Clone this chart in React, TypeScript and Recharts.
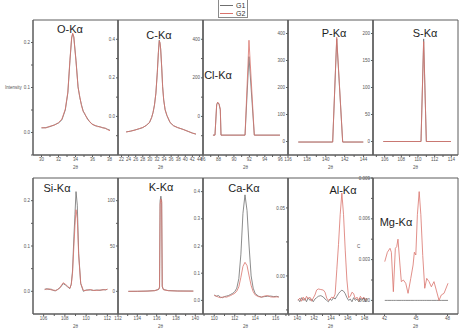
import { useMemo } from "react";
import { Line, LineChart, ReferenceArea, XAxis, YAxis } from "recharts";

const SERIES_NAMES = ["G1", "G2"];
const G1_COLOR = "#6f6f6f";
const G2_COLOR = "#d9736c";
const FRAME = "#5c5c5c";
const TICK = "#555";

const AXIS_W = 30;
const XAXIS_H = 14;
const PAD_TOP = 4;
const PANEL_W = 85;
const COL_LEFT = [33, 118, 203, 288, 373];
const ROW_TOP = [20, 178];
const ROW_H = [135, 136];

// O-Kα
const oX = [30.0, 30.5, 31.0, 31.5, 32.0, 32.4, 32.8, 33.1, 33.35, 33.55, 33.67, 33.8, 34.06, 34.3, 34.5, 34.7, 34.9, 35.1, 35.35, 35.6, 35.95, 36.3, 36.6, 36.9, 37.2, 37.5, 37.8, 38.06];
const oG1 = [0.010, 0.011, 0.013, 0.017, 0.021, 0.028, 0.050, 0.088, 0.160, 0.210, 0.219, 0.213, 0.160, 0.102, 0.078, 0.062, 0.048, 0.040, 0.033, 0.025, 0.019, 0.015, 0.014, 0.012, 0.011, 0.009, 0.007, 0.005];
const oG2 = [0.011, 0.010, 0.014, 0.016, 0.022, 0.030, 0.052, 0.090, 0.163, 0.212, 0.221, 0.211, 0.158, 0.100, 0.080, 0.060, 0.047, 0.042, 0.031, 0.026, 0.018, 0.016, 0.013, 0.013, 0.010, 0.010, 0.006, 0.004];

// C-Kα
const cX = [23.3, 24.5, 25.8, 27.0, 28.0, 29.0, 29.9, 30.5, 30.9, 31.3, 31.7, 32.1, 32.4, 32.65, 32.85, 33.05, 33.35, 33.6, 33.9, 34.3, 34.8, 35.7, 36.7, 37.8, 39.4, 40.8, 42.0, 43.0];
const cG1 = [-0.080, -0.077, -0.070, -0.064, -0.058, -0.046, -0.032, -0.005, 0.020, 0.060, 0.120, 0.230, 0.330, 0.395, 0.380, 0.350, 0.250, 0.155, 0.085, 0.036, 0.005, -0.032, -0.048, -0.058, -0.067, -0.078, -0.086, -0.092];
const cG2 = [-0.081, -0.076, -0.071, -0.063, -0.057, -0.047, -0.030, -0.006, 0.022, 0.058, 0.122, 0.228, 0.332, 0.392, 0.383, 0.347, 0.252, 0.153, 0.087, 0.034, 0.006, -0.031, -0.049, -0.057, -0.068, -0.077, -0.087, -0.091];

// Cl-Kα
const clX = [87.29, 87.55, 87.77, 87.9, 88.07, 88.24, 88.33, 91.44, 91.95, 92.64, 95.96];
const clG1 = [-97, -97, 60, 72, 64, 34, -97, -97, 310, -97, -97];
const clG2 = [-97, -97, 62, 74, 66, 38, -97, -97, 395, -97, -97];

// P-Kα
const pX = [137.09, 140.73, 141.16, 141.79, 143.97];
const pG1 = [-2, -2, 380, -2, -2];
const pG2 = [-2, -2, 386, -2, -2];

// S-Kα
const sX = [105.84, 110.36, 110.68, 111.0, 113.96];
const sG1 = [0, 0, 190, 0, 0];
const sG2 = [0, 0, 185, 0, 0];

// Si-Kα
const siX = [106.1, 106.3, 106.5, 106.7, 106.9, 107.1, 107.3, 107.55, 107.84, 108.05, 108.25, 108.47, 108.6, 108.72, 108.85, 108.95, 109.05, 109.17, 109.3, 109.49, 109.74, 110.0, 110.4, 110.7, 111.0, 111.3, 111.6, 111.85, 112.0];
const siG1 = [0.004, 0.006, 0.004, 0.005, 0.002, 0.001, 0.004, 0.008, 0.017, 0.014, 0.010, 0.006, 0.016, 0.045, 0.120, 0.170, 0.220, 0.190, 0.084, 0.017, 0.000, 0.003, 0.003, 0.002, 0.003, 0.002, 0.004, 0.003, 0.005];
const siG2 = [0.005, 0.004, 0.006, 0.003, 0.003, 0.002, 0.003, 0.009, 0.019, 0.016, 0.011, 0.007, 0.015, 0.040, 0.100, 0.145, 0.180, 0.160, 0.078, 0.018, 0.002, 0.002, 0.004, 0.002, 0.002, 0.003, 0.003, 0.004, 0.004];

// K-Kα
const kX = [133.07, 134.0, 135.0, 135.8, 136.2, 136.3, 136.36, 136.44, 136.52, 136.58, 136.7, 137.2, 138.2, 139.8];
const kG1 = [0, 0, 0.3, 0.8, 2, 4, 100, 105, 98, 5, 2, 0.8, 0.4, 0.3];
const kG2 = [0, 0.1, 0.2, 0.7, 2.2, 5, 96, 102, 100, 6, 1.8, 0.7, 0.3, 0.2];

// Ca-Kα
const caX = [110.0, 110.2, 110.4, 110.6, 110.8, 111.0, 111.2, 111.4, 111.6, 111.8, 112.0, 112.2, 112.4, 112.6, 112.8, 113.0, 113.2, 113.4, 113.6, 113.8, 114.0, 114.3, 114.6, 114.9, 115.2, 115.5, 115.8, 116.1, 116.3];
const caG1 = [0.020, 0.015, 0.018, 0.012, 0.010, 0.014, 0.016, 0.018, 0.022, 0.026, 0.032, 0.045, 0.080, 0.170, 0.320, 0.388, 0.330, 0.200, 0.090, 0.045, 0.025, 0.016, 0.012, 0.014, 0.015, 0.016, 0.014, 0.015, 0.013];
const caG2 = [0.018, 0.016, 0.012, 0.010, 0.012, 0.013, 0.012, 0.015, 0.018, 0.022, 0.026, 0.034, 0.050, 0.085, 0.125, 0.140, 0.128, 0.090, 0.055, 0.032, 0.020, 0.014, 0.012, 0.016, 0.018, 0.013, 0.012, 0.013, 0.012];

// Al-Kα
const alX = [140.1, 140.3, 140.5, 140.7, 140.9, 141.1, 141.3, 141.5, 141.7, 141.9, 142.1, 142.3, 142.5, 142.8, 143.1, 143.3, 143.5, 143.7, 143.9, 144.1, 144.3, 144.5, 144.7, 144.9, 145.1, 145.3, 145.5, 145.7, 145.9, 146.1, 146.3, 146.5, 146.7, 146.9, 147.1, 147.3, 147.5, 147.7, 147.9, 148.1, 148.3];
const alG1 = [-0.017, -0.019, -0.016, -0.018, -0.0165, -0.019, -0.016, -0.018, -0.017, -0.019, -0.017, -0.016, -0.015, -0.0145, -0.0155, -0.017, -0.018, -0.019, -0.017, -0.018, -0.016, -0.017, -0.015, -0.013, -0.0115, -0.0105, -0.0112, -0.013, -0.016, -0.018, -0.017, -0.019, -0.016, -0.018, -0.017, -0.019, -0.017, -0.018, -0.016, -0.019, -0.017];
const alG2 = [-0.018, -0.0163, -0.0186, -0.0156, -0.018, -0.015, -0.017, -0.0156, -0.0186, -0.0163, -0.014, -0.0104, -0.0096, -0.010, -0.0104, -0.012, -0.0163, -0.018, -0.017, -0.0156, -0.0163, -0.0134, 0.0045, 0.023, 0.045, 0.061, 0.045, 0.019, -0.003, -0.016, -0.015, -0.012, -0.013, -0.017, -0.0156, -0.018, -0.015, -0.017, -0.0156, -0.018, -0.0163];

// Mg-Kα
const mgX = [42.02, 42.27, 42.52, 42.65, 42.84, 43.03, 43.16, 43.28, 43.47, 43.6, 43.79, 44.02, 44.24, 44.5, 44.72, 44.84, 44.98, 45.13, 45.3, 45.46, 45.64, 45.83, 46.02, 46.24, 46.46, 46.71, 46.93, 47.19, 47.41, 47.67, 48.05];
const mgG1 = [0, 0, 0, 0, 0, 0, 0, 0, 0, 0, 0, 0, 0, 0, 0, 0, 0, 0, 0, 0, 0, 0, 0, 0, 0, 0, 0, 0, 0, 0, 0];
const mgG2 = [0.00285, 0.00354, 0.00383, 0.00354, 0.00064, 0.00383, 0.00395, 0.0045, 0.0026, 0.00138, 0.0015, 0.00126, 0.00052, 0.00162, 0.0026, 0.00354, 0.00334, 0.0063, 0.008, 0.0063, 0.0033, 0.00089, 0.00162, 0.00138, 0.001, 0.00138, 0.00076, 0, 0.0004, 0.00052, 0.00126];

interface PanelSpec {
  title: string;
  row: number;
  col: number;
  titleAt: [number, number]; // page coords of title centre
  x: number[];
  g1: number[];
  g2: number[];
  xDomain: [number, number];
  xTicks: number[];
  xMinor?: number[];
  yDomain: [number, number];
  yTicks: number[];
  yMinor?: number[];
  yDigits: number;
  yLabel?: string;
  yLabelOffset?: number;
}

const PANELS: PanelSpec[] = [
  { title: "O-Kα", row: 0, col: 0, titleAt: [70, 29], x: oX, g1: oG1, g2: oG2,
    xDomain: [29, 39], xTicks: [30, 32, 34, 36, 38], xMinor: [31, 33, 35, 37],
    yDomain: [-0.05, 0.25], yTicks: [0, 0.1, 0.2], yMinor: [-0.05, 0.05, 0.15], yDigits: 1,
    yLabel: "Intensity", yLabelOffset: 2 },
  { title: "C-Kα", row: 0, col: 1, titleAt: [159, 35], x: cX, g1: cG1, g2: cG2,
    xDomain: [21, 45], xTicks: [22, 24, 26, 28, 30, 32, 34, 36, 38, 40, 42, 44],
    yDomain: [-0.2, 0.5], yTicks: [0, 0.2, 0.4], yMinor: [-0.1, 0.1, 0.3], yDigits: 1 },
  { title: "Cl-Kα", row: 0, col: 2, titleAt: [218, 75], x: clX, g1: clG1, g2: clG2,
    xDomain: [86, 97], xTicks: [86, 88, 90, 92, 94, 96], xMinor: [87, 89, 91, 93, 95],
    yDomain: [-200, 500], yTicks: [0, 200, 400], yMinor: [-100, 100, 300], yDigits: 0 },
  { title: "P-Kα", row: 0, col: 3, titleAt: [334, 33], x: pX, g1: pG1, g2: pG2,
    xDomain: [136, 145], xTicks: [136, 138, 140, 142, 144], xMinor: [137, 139, 141, 143],
    yDomain: [-50, 450], yTicks: [0, 100, 200, 300, 400], yDigits: 0 },
  { title: "S-Kα", row: 0, col: 4, titleAt: [425, 33], x: sX, g1: sG1, g2: sG2,
    xDomain: [104.6, 114.8], xTicks: [106, 108, 110, 112, 114], xMinor: [105, 107, 109, 111, 113],
    yDomain: [-25, 225], yTicks: [0, 50, 100, 150, 200], yDigits: 0 },
  { title: "Si-Kα", row: 1, col: 0, titleAt: [57, 188], x: siX, g1: siG1, g2: siG2,
    xDomain: [105, 113], xTicks: [106, 108, 110, 112], xMinor: [107, 109, 111],
    yDomain: [-0.05, 0.25], yTicks: [0, 0.1, 0.2], yMinor: [0.05, 0.15], yDigits: 1 },
  { title: "K-Kα", row: 1, col: 1, titleAt: [161, 187], x: kX, g1: kG1, g2: kG2,
    xDomain: [132, 140.8], xTicks: [132, 134, 136, 138, 140], xMinor: [133, 135, 137, 139],
    yDomain: [-25, 125], yTicks: [0, 50, 100], yMinor: [25, 75], yDigits: 0 },
  { title: "Ca-Kα", row: 1, col: 2, titleAt: [244, 188], x: caX, g1: caG1, g2: caG2,
    xDomain: [108.9, 117.2], xTicks: [110, 112, 114, 116], xMinor: [109, 111, 113, 115, 117],
    yDomain: [-0.05, 0.45], yTicks: [0, 0.1, 0.2, 0.3, 0.4], yDigits: 1 },
  { title: "Al-Kα", row: 1, col: 3, titleAt: [343, 190], x: alX, g1: alG1, g2: alG2,
    xDomain: [138.9, 149], xTicks: [140, 142, 144, 146, 148], xMinor: [139, 141, 143, 145, 147],
    yDomain: [-0.028, 0.072], yTicks: [0, 0.05], yMinor: [-0.025, 0.025], yDigits: 2 },
  { title: "Mg-Kα", row: 1, col: 4, titleAt: [396, 222], x: mgX, g1: mgG1, g2: mgG2,
    xDomain: [40.9, 49], xTicks: [42, 45, 48],
    yDomain: [-0.001, 0.009], yTicks: [0, 0.003, 0.006, 0.009], yMinor: [0.0015, 0.0045, 0.0075], yDigits: 3,
    yLabel: "C", yLabelOffset: 14 },
];

const tickStyle = { fontSize: 4.5, fill: TICK };

function withMinor(major: number[], minor?: number[]) {
  return [...major, ...(minor ?? [])].sort((a, b) => a - b);
}

function Panel({ spec }: { spec: PanelSpec }) {
  const data = useMemo(
    () => spec.x.map((x, i) => ({ x, g1: spec.g1[i], g2: spec.g2[i] })),
    [spec],
  );
  const left = COL_LEFT[spec.col] - AXIS_W;
  const top = ROW_TOP[spec.row] - PAD_TOP;
  const plotH = ROW_H[spec.row];

  return (
    <>
      <div style={{ position: "absolute", left, top }}>
        <LineChart
          width={AXIS_W + PANEL_W + 2}
          height={plotH + XAXIS_H + PAD_TOP}
          data={data}
          margin={{ top: PAD_TOP, right: 2, bottom: 0, left: 0 }}
        >
          <XAxis
            dataKey="x"
            type="number"
            domain={spec.xDomain}
            ticks={withMinor(spec.xTicks, spec.xMinor)}
            interval={0}
            allowDataOverflow
            tickFormatter={(v: number) => (spec.xTicks.includes(v) ? String(v) : "")}
            height={XAXIS_H}
            tickSize={2}
            tickMargin={1}
            stroke={FRAME}
            tick={tickStyle}
            label={{ value: "2θ", position: "insideBottom", offset: 0, fontSize: 4.5, fill: TICK }}
          />
          <YAxis
            type="number"
            domain={spec.yDomain}
            ticks={withMinor(spec.yTicks, spec.yMinor)}
            interval={0}
            allowDataOverflow
            tickFormatter={(v: number) => (spec.yTicks.includes(v) ? v.toFixed(spec.yDigits) : "")}
            width={AXIS_W}
            tickSize={2}
            tickMargin={1}
            stroke={FRAME}
            tick={tickStyle}
            label={
              spec.yLabel
                ? { value: spec.yLabel, position: "insideLeft", offset: spec.yLabelOffset ?? 2, fontSize: 4.5, fill: TICK }
                : undefined
            }
          />
          <ReferenceArea
            x1={spec.xDomain[0]}
            x2={spec.xDomain[1]}
            y1={spec.yDomain[0]}
            y2={spec.yDomain[1]}
            fill="none"
            stroke={FRAME}
            strokeWidth={1}
          />
          <Line type="linear" dataKey="g1" stroke={G1_COLOR} strokeWidth={0.8} dot={false} isAnimationActive={false} />
          <Line type="linear" dataKey="g2" stroke={G2_COLOR} strokeWidth={0.8} dot={false} isAnimationActive={false} />
        </LineChart>
      </div>
      <div
        style={{
          position: "absolute",
          left: spec.titleAt[0],
          top: spec.titleAt[1],
          transform: "translate(-50%, -50%)",
          fontSize: 11,
          color: "#1e1e1e",
          whiteSpace: "nowrap",
        }}
      >
        {spec.title}
      </div>
    </>
  );
}

export default function App() {
  const colors = [G1_COLOR, G2_COLOR];
  return (
    <div
      style={{
        position: "fixed",
        left: 0,
        top: 0,
        width: 474,
        height: 330,
        background: "#fff",
        overflow: "hidden",
        fontFamily: "Arial, 'Liberation Sans', sans-serif",
      }}
    >
      {PANELS.map((p) => (
        <Panel key={p.title} spec={p} />
      ))}
      <div
        style={{
          position: "absolute",
          left: 218,
          top: -1,
          width: 30,
          height: 19,
          boxSizing: "border-box",
          border: "1px solid #8a8a8a",
          background: "#fff",
          fontSize: 7,
          color: "#333",
          paddingTop: 1,
        }}
      >
        {SERIES_NAMES.map((name, i) => (
          <div key={name} style={{ display: "flex", alignItems: "center", height: 8, paddingLeft: 1 }}>
            <span style={{ width: 13, borderTop: `1px solid ${colors[i]}`, marginRight: 3 }} />
            <span>{name}</span>
          </div>
        ))}
      </div>
    </div>
  );
}
